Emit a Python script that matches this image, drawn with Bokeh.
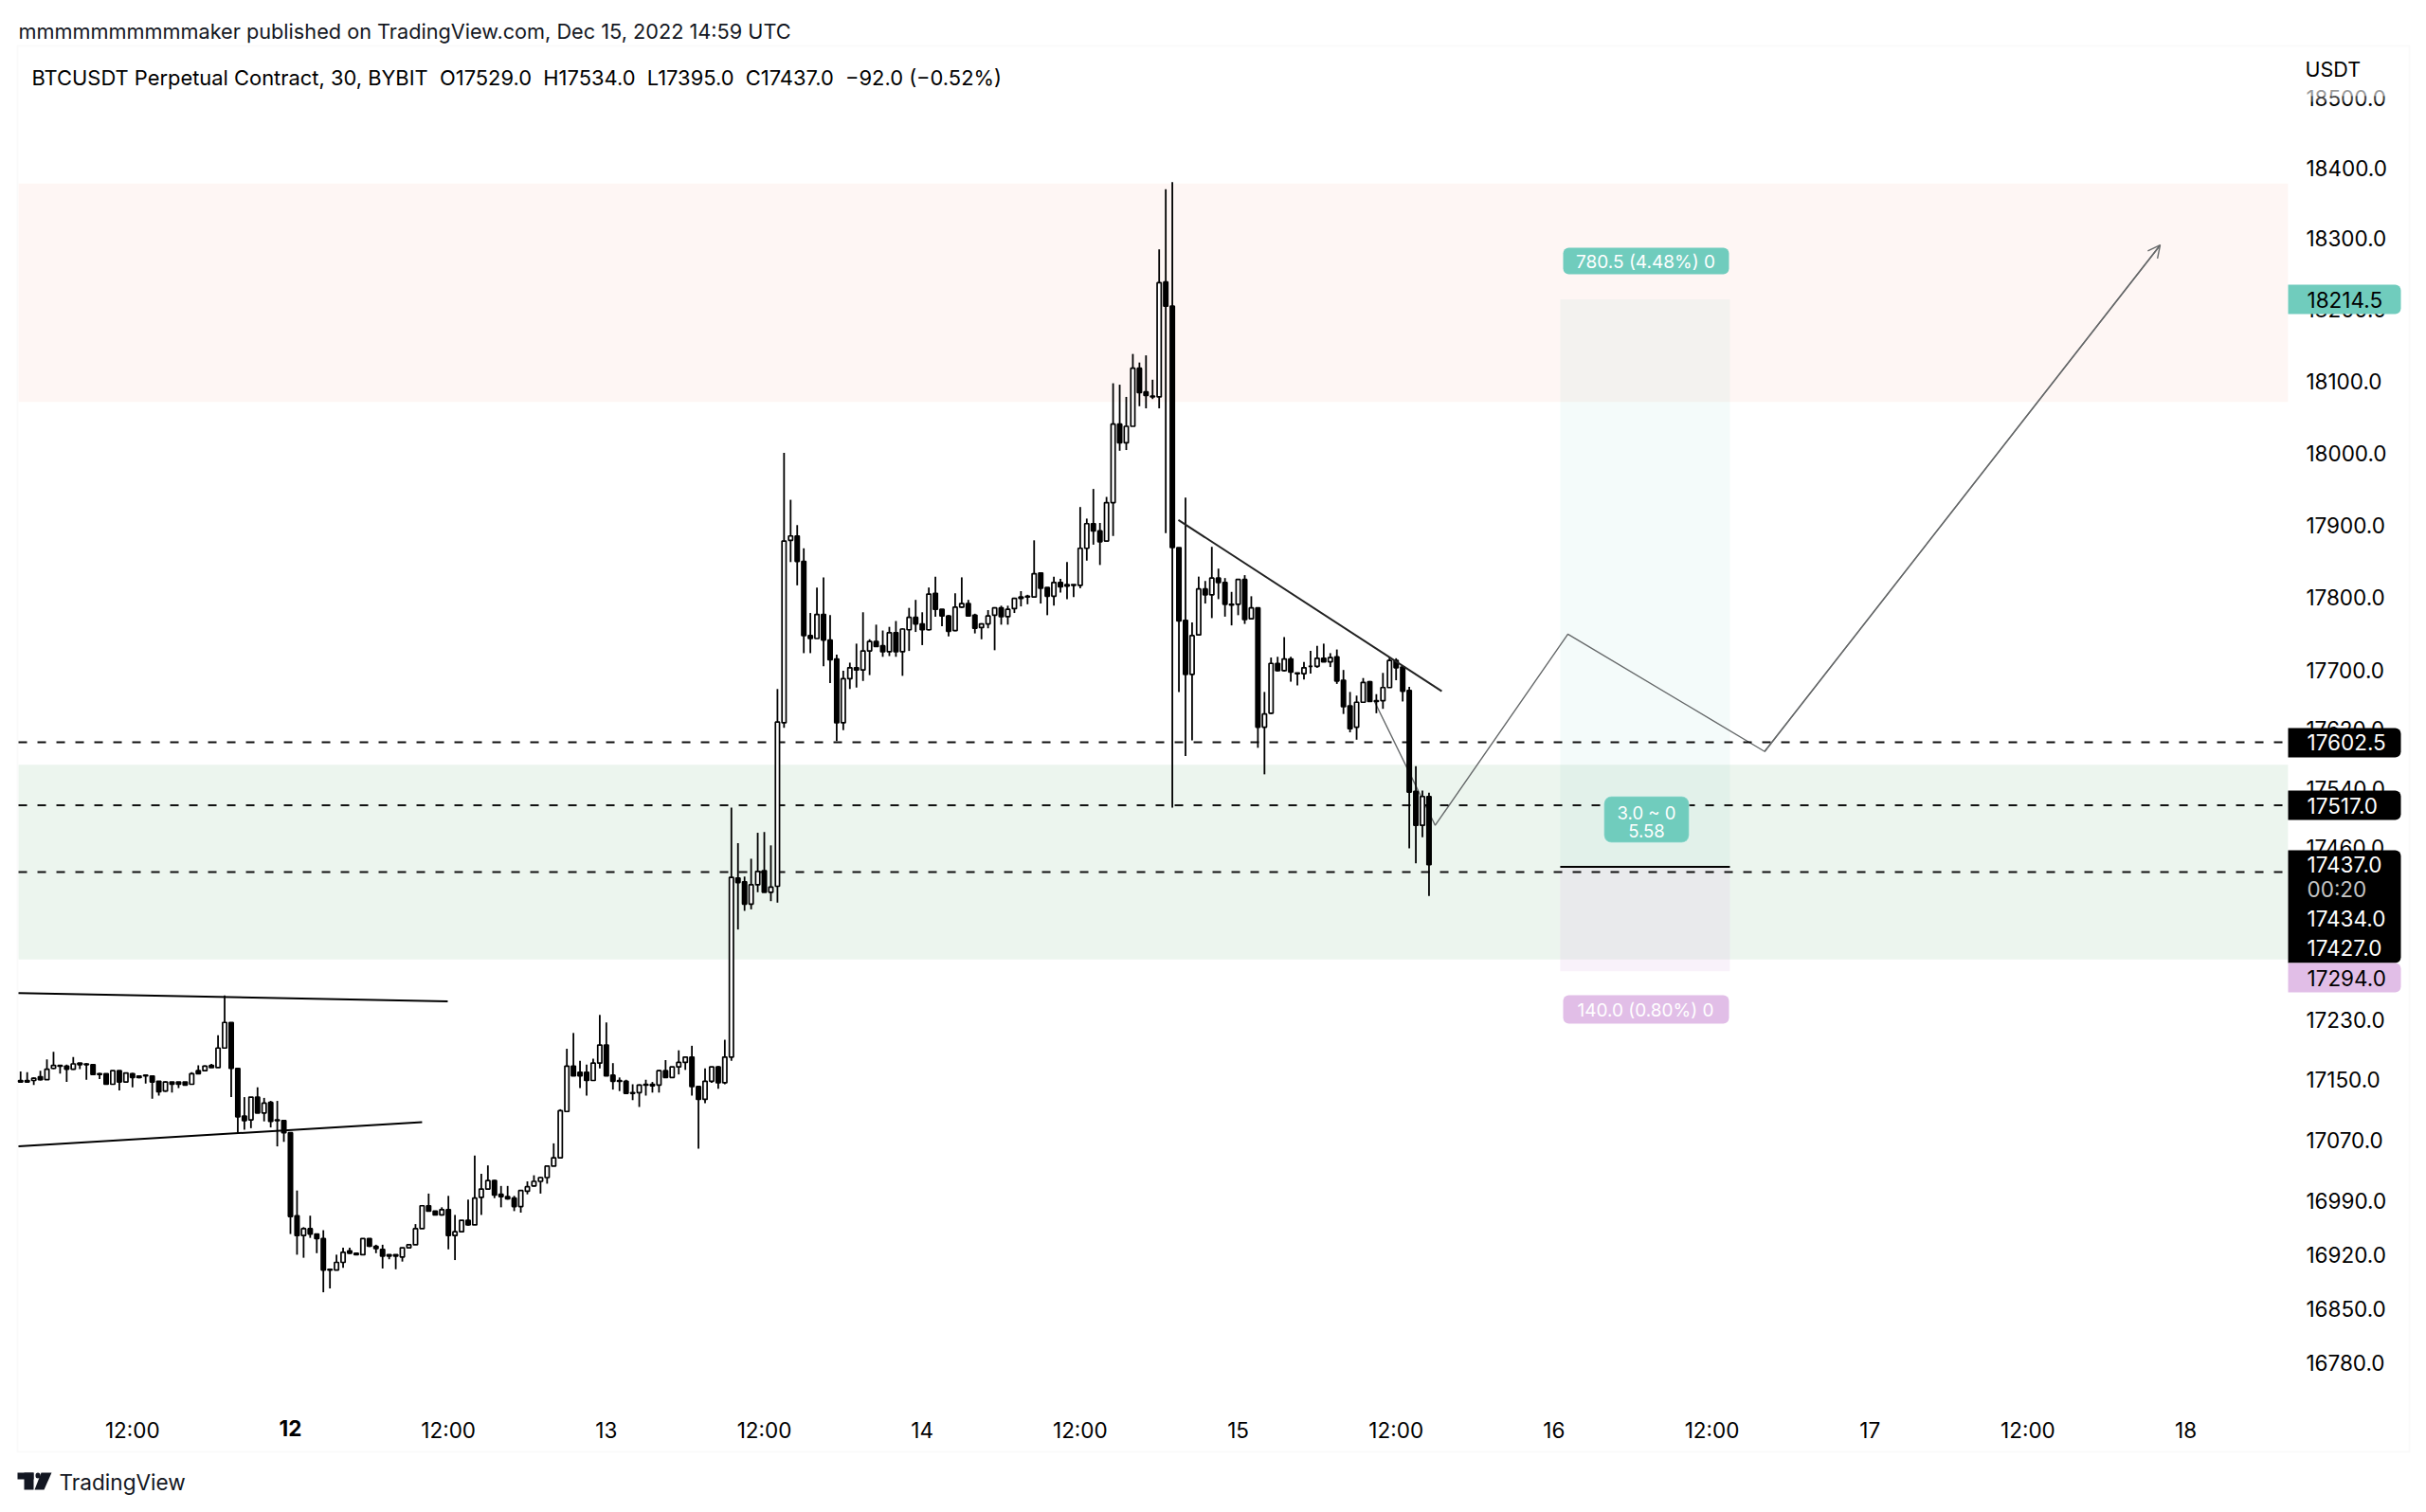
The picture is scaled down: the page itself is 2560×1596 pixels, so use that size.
from bokeh.plotting import figure
from bokeh.models import (Range1d, FixedTicker, Label, BoxAnnotation, PolyAnnotation, Arrow, OpenHead,
                          ColumnDataSource)
from bokeh.embed import file_html
from bokeh.resources import INLINE

# ---------- candle data (30-minute bars) ----------
first_bar_hour = 3.5   # hours after Dec 11 00:00
opens = [17149,17149,17149,17154,17150,17165,17169,17168,17164,17172,17171,17170,17158,17158,17144,17162,17147,17158,17155,17156,17155,17148,17135,17147,17147,17147,17144,17162,17162,17169,17166,17192,17226,17165,17102,17097,17127,17106,17120,17097,17096,
 17080,16971,16945,16954,16947,16941,16901,16900,16910,16925,
 16922,16920,16941,16931,16927,16920,16920,16917,16929,16933,
 16954,16984,16977,16972,16979,16945,16950,16965,16959,16995,
 17006,17017,16999,16996,16994,16983,17003,17010,17016,17021,
 17036,17047,17108,17168,17160,17160,17149,17172,17196,17156,
 17149,17148,17133,17133,17144,17144,17143,
 17162,17153,17167,17173,17180,17141,17124,17148,17167,17146,17180,17419,17414,17384,17410,17429,17400,17408,
 17629,17879,17885,17850,17748,17744,17777,17742,17716,17629,
 17689,17704,17701,17727,17740,17734,17726,17752,17726,17756,
 17773,17764,17756,17806,17784,17775,17755,17787,17792,17776,
 17759,17764,17776,17786,17774,17785,17801,17802,17801,17834,
 17814,17802,17821,17818,17818,17817,17868,17902,17892,17878,
 17931,18040,18014,18037,18118,18085,18079,18078,18239,18205,
 17869,17769,17695,17749,17812,17804,17827,17821,17791,17791,
 17825,17771,17786,17623,17642,17710,17700,17716,17697,17696,
 17706,17706,17717,17712,17719,17687,17652,17623,17657,17685,
 17659,17659,17677,17714,17705,17673,17536,17490,17529]
closes = [17147,17147,17152,17150,17164,17169,17168,17164,17171,17170,17170,17157,17157,17144,17162,17147,17159,17153,17153,17155,17147,17134,17147,17144,17144,17143,17158,17158,17168,17166,17192,17226,17165,17101,17096,17127,17106,17119,17095,17096,17080,
 16970,16945,16954,16947,16941,16900,16900,16910,16923,16922,
 16920,16941,16931,16928,16918,16918,16918,16929,16933,16954,
 16984,16977,16972,16979,16945,16950,16965,16959,16994,17006,
 17017,16998,16996,16993,16983,17004,17009,17016,17021,17036,
 17047,17109,17168,17155,17155,17149,17172,17196,17155,17148,
 17148,17132,17132,17143,17143,17142,17162,
 17153,17167,17173,17180,17141,17124,17148,17167,17146,17180,17420,17413,17384,17410,17428,17400,17407,17630,
 17878,17885,17850,17748,17744,17777,17742,17715,17629,17689,
 17704,17701,17727,17740,17733,17726,17752,17726,17757,17773,
 17764,17756,17805,17784,17775,17754,17787,17792,17775,17758,
 17764,17775,17786,17774,17784,17799,17799,17801,17833,17813,
 17802,17821,17815,17816,17817,17868,17902,17892,17877,17931,
 18040,18014,18037,18118,18084,18080,18078,18238,18205,17869,
 17768,17695,17748,17812,17804,17827,17821,17791,17790,17825,
 17770,17786,17623,17641,17710,17700,17716,17698,17696,17704,
 17706,17717,17712,17718,17686,17651,17621,17657,17684,17658,
 17658,17677,17714,17704,17672,17535,17490,17529,17437]
highs = [17161,17160,17153,17162,17177,17187,17169,17170,17180,17172,17172,17170,17159,17158,17162,17162,17159,17159,17156,17157,17156,17148,17148,17147,17147,17147,17160,17169,17169,17171,17209,17262,17226,17165,17127,17127,17140,17126,17122,17122,17096,
 17080,17004,16956,16971,16947,16952,16902,16920,16929,16929,
 16922,16941,16941,16933,16933,16920,16920,16929,16933,16960,
 16985,17000,16977,16982,16997,16972,16965,16992,17050,17026,
 17037,17018,17010,17010,16997,17004,17016,17024,17022,17037,
 17066,17111,17191,17212,17175,17170,17178,17236,17226,17172,
 17153,17150,17144,17144,17150,17147,17163,
 17176,17167,17189,17180,17195,17141,17165,17167,17168,17203,17514,17466,17421,17445,17480,17481,17463,17675,
 18000,17935,17900,17868,17779,17814,17828,17776,17722,17700,
 17711,17737,17780,17743,17763,17755,17760,17768,17758,17786,
 17797,17780,17814,17829,17784,17776,17806,17828,17797,17778,
 17765,17783,17787,17789,17789,17800,17809,17804,17879,17834,
 17814,17829,17826,17849,17818,17925,17909,17950,17903,17939,
 18097,18095,18078,18138,18126,18136,18102,18285,18370,18380,
 17869,17938,17766,17829,17823,17870,17840,17827,17808,17825,
 17831,17802,17786,17671,17718,17719,17746,17719,17697,17712,
 17727,17734,17737,17724,17729,17701,17671,17666,17690,17686,
 17668,17697,17718,17717,17707,17678,17570,17537,17534]
lows = [17147,17147,17143,17149,17150,17164,17158,17147,17163,17164,17150,17156,17151,17144,17144,17136,17146,17140,17152,17145,17125,17129,17134,17133,17139,17142,17144,17158,17161,17166,17166,17192,17127,17080,17084,17086,17106,17095,17087,17062,17068,
 16947,16920,16916,16942,16922,16871,16876,16900,16903,16921,
 16920,16920,16930,16922,16902,16914,16901,16911,16929,16933,
 16954,16977,16972,16971,16927,16913,16950,16958,16959,16972,
 17006,16994,16982,16992,16977,16975,16999,17009,17000,17013,
 17036,17047,17108,17155,17139,17129,17149,17165,17155,17137,
 17135,17132,17123,17114,17129,17133,17133,
 17153,17153,17157,17163,17129,17059,17119,17146,17138,17144,17175,17350,17375,17377,17400,17400,17388,17386,
 17622,17849,17817,17724,17724,17744,17706,17683,17604,17619,
 17675,17677,17686,17694,17733,17719,17720,17719,17693,17727,
 17753,17735,17755,17774,17761,17747,17754,17786,17775,17751,
 17743,17758,17728,17763,17763,17779,17788,17791,17800,17792,
 17776,17789,17807,17798,17801,17813,17851,17873,17845,17878,
 17885,18003,18004,18037,18065,18062,18075,18062,17889,17514,
 17671,17584,17605,17749,17792,17772,17798,17774,17762,17776,
 17764,17770,17595,17559,17641,17699,17699,17685,17680,17688,
 17696,17704,17712,17705,17682,17641,17616,17606,17656,17658,
 17642,17648,17677,17687,17658,17459,17439,17474,17395]

# ---------- levels and drawings (price, hours after Dec 11 00:00) ----------
price_ticks = [18500,18400,18300,18200,18100,18000,17900,17800,17700,17620,17540,17460,17230,17150,17070,16990,16920,16850,16780]
time_ticks = [12,36,48,60,72,84,96,108,120,132,144,156,168]
time_labels = ["12:00","12:00","13","12:00","14","12:00","15","12:00","16","12:00","17","12:00","18"]
supply_zone = (18378, 18071)
demand_zone = (17572, 17310)
dashed_levels = [17602.5, 17517.0, 17427.0]
upper_line_x, upper_line_y = [3.34, 35.95], [17265, 17254]
lower_line_x, lower_line_y = [3.34, 34.0], [17062, 17094]
trend_line_x, trend_line_y = [91.46, 111.47], [17907, 17672]
path_x = [106.36, 110.97, 121.05, 136.0, 166.05]
path_y = [17658, 17490, 17750, 17590, 18291]
position_x = (120.47, 133.36)
entry_price, target_price, stop_price = 17434.0, 18214.5, 17294.0

# chart pane bounds (the frame itself spans the whole canvas so that
# flags, headers and footer can be placed around the pane)
PANE_LEFT, PANE_RIGHT = 3.34, 175.76
PANE_BOTTOM = 16716
X_RANGE = (1.97, 185.56)
Y_RANGE = (16594, 18639.6)
INK = "#131722"
FONT = "Inter"
TEAL = "#70ccbd"
LILAC = "#e1bee7"

p = figure(width=2550, height=1590, y_axis_type="log", output_backend="svg", toolbar_location=None,
           x_range=Range1d(*X_RANGE), y_range=Range1d(*Y_RANGE), y_axis_location="right",
           min_border_left=0, min_border_right=0, min_border_top=0, min_border_bottom=0,
           background_fill_color="white", border_fill_color="white", outline_line_color=None)
p.grid.visible = False

ya = p.yaxis[0]
ya.fixed_location = PANE_RIGHT
ya.ticker = FixedTicker(ticks=price_ticks)
ya.major_label_overrides = {t: f"{t:.1f}" for t in price_ticks}
ya.axis_line_color = None
ya.major_tick_line_color = None
ya.minor_tick_line_color = None
ya.major_label_text_font = FONT
ya.major_label_text_font_size = "22.5px"
ya.major_label_text_color = "#000000"
ya.major_label_standoff = 13

xa = p.xaxis[0]
xa.fixed_location = PANE_BOTTOM
xa.ticker = FixedTicker(ticks=time_ticks)
xa.major_label_overrides = dict(zip(time_ticks, time_labels))
xa.axis_line_color = None
xa.major_tick_line_color = None
xa.minor_tick_line_color = None
xa.major_label_text_font = FONT
xa.major_label_text_font_size = "22.5px"
xa.major_label_text_color = "#000000"
xa.major_label_standoff = 0

# zones
p.quad(left=PANE_LEFT, right=PANE_RIGHT, top=supply_zone[0], bottom=supply_zone[1], fill_color="#fef6f4", line_color=None)
p.quad(left=PANE_LEFT, right=PANE_RIGHT, top=demand_zone[0], bottom=demand_zone[1], fill_color="#ecf5ee", line_color=None)

# long-position tool
p.quad(left=position_x[0], right=position_x[1], top=target_price, bottom=entry_price, fill_color=TEAL, fill_alpha=0.08, line_color=None)
p.quad(left=position_x[0], right=position_x[1], top=entry_price, bottom=stop_price, fill_color=LILAC, fill_alpha=0.2, line_color=None)
p.line(list(position_x), [entry_price, entry_price], line_color="#000000", line_width=2)

# projected path (under candles)
p.line(path_x, path_y, line_color="#66696a", line_width=1.4)
p.add_layout(Arrow(end=OpenHead(size=13, line_color="#66696a", line_width=1.4), x_start=path_x[-2], y_start=path_y[-2],
                   x_end=path_x[-1], y_end=path_y[-1], line_color="#66696a", line_width=1.4))

# dashed levels
for lv in dashed_levels:
    p.line([PANE_LEFT, PANE_RIGHT], [lv, lv], line_color="#111111", line_width=2, line_dash=[9, 11])

# candles
hours = [first_bar_hour + 0.5 * i for i in range(len(opens))]
src = ColumnDataSource(dict(
    x=hours, o=opens, h=highs, l=lows, c=closes,
    top=[max(a, b) for a, b in zip(opens, closes)],
    bot=[min(a, b) for a, b in zip(opens, closes)],
    fill=["#ffffff" if b >= a else "#000000" for a, b in zip(opens, closes)],
))
p.segment("x", "h", "x", "l", source=src, line_color="#000000", line_width=1.8)
p.vbar("x", width=0.31, top="top", bottom="bot", source=src, fill_color="fill", line_color="#000000", line_width=1.7)

# trend lines
p.line(upper_line_x, upper_line_y, line_color="#000000", line_width=2)
p.line(lower_line_x, lower_line_y, line_color="#000000", line_width=2)
p.line(trend_line_x, trend_line_y, line_color="#222222", line_width=2)


def box(left, right, top, bottom, **kw):
    b = BoxAnnotation(left=left, right=right, top=top, bottom=bottom,
                      left_units="canvas", right_units="canvas", top_units="canvas", bottom_units="canvas",
                      **kw)
    p.add_layout(b)
    return b


def text(x, y, s, size=22.5, color="#000000", align="left", style="normal", font=FONT):
    p.add_layout(Label(x=x, y=y, x_units="canvas", y_units="canvas", text=s, text_font=font,
                       text_font_size=f"{size}px", text_color=color, text_align=align,
                       text_baseline="middle", text_font_style=style))


# outer frame
box(18, 2542, 48, 1532, fill_alpha=0, line_color="#efefef", line_width=2, level="underlay")

# headers
text(19, 32, "mmmmmmmmmmaker published on TradingView.com, Dec 15, 2022 14:59 UTC", size=21.7, color=INK)
SEP = "\u00a0\u00a0"
text(33, 81, "BTCUSDT Perpetual Contract, 30, BYBIT" + SEP + "O17529.0" + SEP + "H17534.0" + SEP + "L17395.0"
     + SEP + "C17437.0" + SEP + "\u221292.0 (\u22120.52%)", size=21.9, color="#000000")
text(2432, 72, "USDT", size=21.5)

# top of the price scale fades out below the currency label
box(2430, 2535, 94, 101, fill_color="#ffffff", fill_alpha=0.6, line_color=None)
box(2430, 2535, 101, 107, fill_color="#ffffff", fill_alpha=0.25, line_color=None)

# bold date tick
p.add_layout(Label(x=24, y=1507, y_units="canvas", text="12", text_font=FONT, text_font_size="22.5px",
                   text_font_style="bold", text_align="center", text_baseline="middle", text_color="#000000"))

# price flags on the axis
R = (0, 6, 6, 0)
box(2414, 2533, 300, 331, fill_color=TEAL, fill_alpha=1, line_color=None, border_radius=R)
text(2434, 316, "18214.5")
box(2414, 2533, 768, 799, fill_color="#000000", fill_alpha=1, line_color=None, border_radius=R)
text(2434, 783, "17602.5", color="#ffffff")
box(2414, 2533, 834, 865, fill_color="#000000", fill_alpha=1, line_color=None, border_radius=R)
text(2434, 850, "17517.0", color="#ffffff")
box(2414, 2533, 897, 1016, fill_color="#000000", fill_alpha=1, line_color=None, border_radius=R)
text(2434, 912, "17437.0", color="#ffffff")
text(2434, 938, "00:20", color="#c4c4c4")
text(2434, 969, "17434.0", color="#ffffff")
text(2434, 1000, "17427.0", color="#ffffff")
box(2414, 2533, 1016, 1047, fill_color=LILAC, fill_alpha=1, line_color=None, border_radius=R)
text(2434, 1032, "17294.0")

# position-tool badges
box(1649, 1824, 261, 289, fill_color=TEAL, fill_alpha=1, line_color=None, border_radius=6)
text(1736, 276, "780.5 (4.48%) 0", size=19, color="#ffffff", align="center")
box(1692, 1782, 840, 889, fill_color=TEAL, fill_alpha=1, line_color="#ffffff", line_width=1.5, border_radius=8)
text(1737, 857, "3.0 ~ 0", size=18.5, color="#ffffff", align="center")
text(1737, 876, "5.58", size=18.5, color="#ffffff", align="center")
box(1649, 1824, 1050, 1080, fill_color=LILAC, fill_alpha=1, line_color=None, border_radius=6)
text(1736, 1066, "140.0 (0.80%) 0", size=19, color="#ffffff", align="center")

# footer logo + word
box(18, 35, 1554, 1561, fill_color=INK, fill_alpha=1, line_color=None)
box(25, 35, 1554, 1572, fill_color=INK, fill_alpha=1, line_color=None)
box(37, 42, 1554, 1560, fill_color=INK, fill_alpha=1, line_color=None, border_radius=3)
p.add_layout(PolyAnnotation(xs=[43, 54, 46, 36], ys=[1554, 1554, 1572, 1572], xs_units="canvas", ys_units="canvas",
                            fill_color=INK, fill_alpha=1, line_color=None))
text(62, 1564, "TradingView", size=22.6, color=INK)

open("out.html", "w").write(file_html(p, INLINE))
